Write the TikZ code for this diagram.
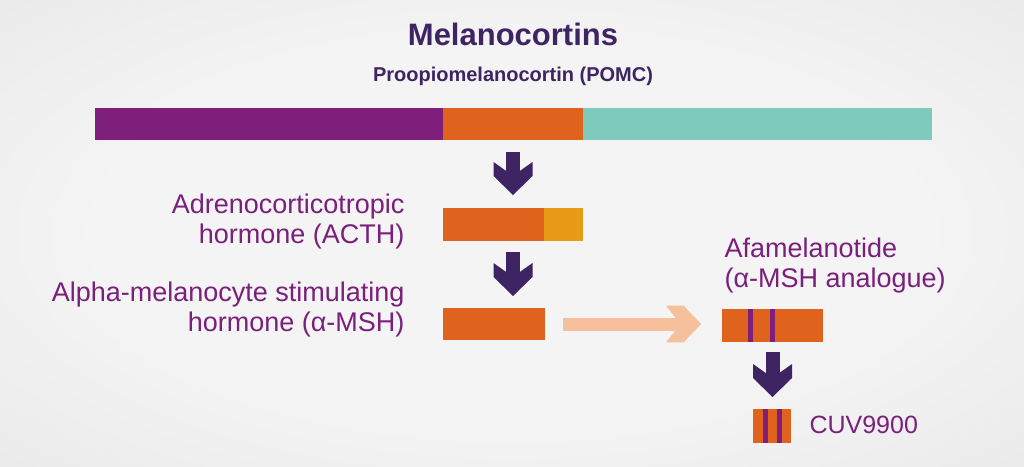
\documentclass[tikz,border=0pt]{standalone}
\usepackage{fontspec}
\setmainfont{Liberation Sans}
\usetikzlibrary{positioning,arrows.meta}

\definecolor{bgmid}{HTML}{F4F4F4}
\definecolor{bgedge}{HTML}{DCDCDC}
\definecolor{ink}{HTML}{3F2463}
\definecolor{plum}{HTML}{7E1F7C}
\definecolor{rust}{HTML}{E0631D}
\definecolor{amber}{HTML}{E89B17}
\definecolor{mint}{HTML}{7ECBBD}
\definecolor{peach}{HTML}{F5C09B}
\definecolor{lilac}{HTML}{7A1F7B}

\pgfdeclareradialshading{glow}{\pgfpoint{0bp}{0bp}}{%
  color(0bp)=(bgmid); color(20bp)=(bgmid); color(60bp)=(bgedge); color(80bp)=(bgedge)}

% block arrow heads with a notched back
\pgfdeclarearrow{
  name = Chunk,
  setup code = {
    \pgfarrowssettipend{0pt}
    \pgfarrowssetlineend{-18pt}
    \pgfarrowssetbackend{-33pt}
    \pgfarrowsupperhullpoint{0pt}{0pt}
    \pgfarrowsupperhullpoint{-19pt}{19.5pt}
    \pgfarrowsupperhullpoint{-33pt}{19.5pt}
  },
  drawing code = {
    \pgfpathmoveto{\pgfqpoint{0pt}{0pt}}
    \pgfpathlineto{\pgfqpoint{-19pt}{19.5pt}}
    \pgfpathlineto{\pgfqpoint{-33pt}{19.5pt}}
    \pgfpathlineto{\pgfqpoint{-19.2pt}{0pt}}
    \pgfpathlineto{\pgfqpoint{-33pt}{-19.5pt}}
    \pgfpathlineto{\pgfqpoint{-19pt}{-19.5pt}}
    \pgfpathclose
    \pgfusepathqfill
  }
}
\pgfdeclarearrow{
  name = Wedge,
  setup code = {
    \pgfarrowssettipend{0pt}
    \pgfarrowssetlineend{-19pt}
    \pgfarrowssetbackend{-35pt}
    \pgfarrowsupperhullpoint{0pt}{0pt}
    \pgfarrowsupperhullpoint{-17.4pt}{18.3pt}
    \pgfarrowsupperhullpoint{-35pt}{18.3pt}
  },
  drawing code = {
    \pgfpathmoveto{\pgfqpoint{0pt}{0pt}}
    \pgfpathlineto{\pgfqpoint{-17.4pt}{18.3pt}}
    \pgfpathlineto{\pgfqpoint{-35pt}{18.3pt}}
    \pgfpathlineto{\pgfqpoint{-20.4pt}{0pt}}
    \pgfpathlineto{\pgfqpoint{-35pt}{-18.3pt}}
    \pgfpathlineto{\pgfqpoint{-17.4pt}{-18.3pt}}
    \pgfpathclose
    \pgfusepathqfill
  }
}

\begin{document}
\begin{tikzpicture}[
        x=1pt, y=-1pt,
        bar/.style={inner sep=0pt, outer sep=0pt, minimum height=32pt},
        down/.style={-Chunk, draw=ink, fill=ink, line width=14pt},
        across/.style={-Wedge, draw=peach, fill=peach, line width=13pt},
        lbl/.style={text=lilac, font=\fontsize{27}{30}\selectfont},
        heading/.style={text=ink, font=\bfseries, anchor=base}
    ]
        \shade[shading=glow] (0,0) rectangle (1024,466);
        \useasboundingbox (0,0) rectangle (1024,466);

        \node[heading, font=\bfseries\fontsize{31}{36}\selectfont] (title) at (513,45) {Melanocortins};
        \node[heading, font=\bfseries\fontsize{20}{24}\selectfont] (sub) at (513,81) {Proopiomelanocortin (POMC)};

        % precursor chain
        \node[bar, fill=plum, minimum width=348pt] (pomcA) at (269,124) {};
        \node[bar, fill=rust, minimum width=140pt, right=0pt of pomcA] (pomcB) {};
        \node[bar, fill=mint, minimum width=349pt, right=0pt of pomcB] (pomcC) {};

        \node[bar, fill=rust, minimum width=140pt, minimum height=33pt] (acth) at (513,224.5) {};
        \fill[amber] ([xshift=-39pt]acth.north east) rectangle (acth.south east);
        \node[bar, fill=rust, minimum width=102pt] (msh) at (494,324) {};

        \node[bar, fill=rust, minimum width=101pt, minimum height=33pt] (afam) at (772.5,325.5) {};
        \foreach \s in {26,48}
            \fill[plum] ([xshift=\s]afam.north west) rectangle ([xshift=\s+5]afam.south west);
        \node[bar, fill=rust, minimum width=38pt, minimum height=34pt] (cuv) at (772,426) {};
        \foreach \s in {10,24}
            \fill[plum] ([xshift=\s]cuv.north west) rectangle ([xshift=\s+5]cuv.south west);

        % labels (base = last line)
        \node[lbl, align=right, anchor=base east] (acthtxt) at (408,243) {Adrenocorticotropic\\hormone (ACTH)};
        \node[lbl, align=right, anchor=base east] (mshtxt) at (408,331) {Alpha-melanocyte stimulating\\hormone (α-MSH)};
        \node[lbl, align=left, anchor=base west] (afamtxt) at (721,287) {Afamelanotide\\(α-MSH analogue)};
        \node[lbl, font=\fontsize{25}{28}\selectfont, anchor=base west] (cuvtxt) at (806,433) {CUV9900};

        % cleavage steps
        \draw[down, shorten <=12pt, shorten >=13pt] (pomcB.south) -- (acth.north);
        \draw[down, shorten <=11pt, shorten >=12pt] (acth.south) -- (acth.south |- msh.north);
        \draw[down, shorten <=10pt, shorten >=12pt] (afam.south) -- (afam.south |- cuv.north);
        \draw[across, shorten <=18pt, shorten >=21pt] (msh.east) -- (msh.east -| afam.west);
    \end{tikzpicture}
\end{document}
